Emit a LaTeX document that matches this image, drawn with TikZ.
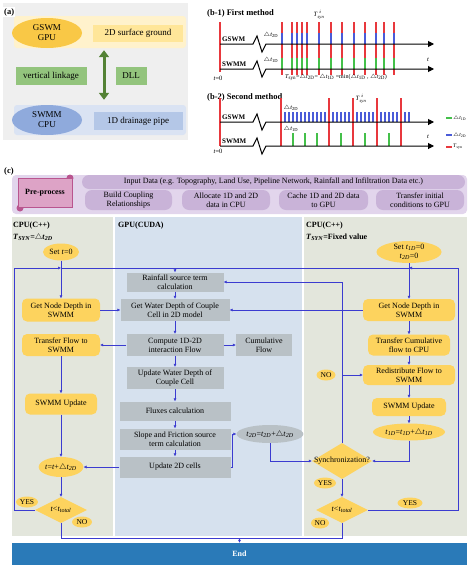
\documentclass[tikz,border=0pt]{standalone}
\usepackage{fontspec}
\setmainfont{Liberation Serif}
\usetikzlibrary{shapes.geometric,arrows.meta}

\definecolor{panelgray}{HTML}{EFEFEF}
\definecolor{ylband}{HTML}{FFF2CC}
\definecolor{gswmc}{HTML}{F9C846}
\definecolor{surfc}{HTML}{FFE699}
\definecolor{grn}{HTML}{93C47D}
\definecolor{darkgrn}{HTML}{548235}
\definecolor{blband}{HTML}{DAE3F3}
\definecolor{swmmc}{HTML}{8FAADC}
\definecolor{pipec}{HTML}{B4C7E7}
\definecolor{tred}{HTML}{E8383D}
\definecolor{tblue}{HTML}{4A5BD8}
\definecolor{tgrn}{HTML}{44C04A}
\definecolor{lavband}{HTML}{E2D5EC}
\definecolor{lavbtn}{HTML}{C9B3D8}
\definecolor{pinkc}{HTML}{DDA3C6}
\definecolor{pinkd}{HTML}{B9558F}
\definecolor{cpuc}{HTML}{E3E6DC}
\definecolor{gpuc}{HTML}{D6E1EE}
\definecolor{boxgray}{HTML}{B9C1C6}
\definecolor{yel}{HTML}{FDD35E}
\definecolor{arrblue}{HTML}{3B3BD0}
\definecolor{endc}{HTML}{2A7AB8}

\newcommand{\dt}[1]{$\triangle$\textit{t}\textsubscript{#1}}
\newcommand{\tsb}[1]{\textit{t}\textsubscript{\textit{#1}}}

\begin{document}
\begin{tikzpicture}[x=1pt,y=-1pt,
    every node/.style={font=\fontsize{8}{9}\selectfont, inner sep=1pt},
    ybox/.style={fill=yel, rounded corners=5pt, align=center},
    yell/.style={ellipse, fill=yel, inner sep=0pt, align=center},
    gbox/.style={fill=boxgray, align=center},
    dia/.style={diamond, fill=yel, aspect=2, inner sep=0pt},
    yn/.style={ellipse, fill=yel, inner sep=0pt, minimum width=22, minimum height=11, font=\fontsize{7.5}{8}\selectfont},
    pbtn/.style={fill=lavbtn, rounded corners=7pt, align=center, minimum height=20},
    arr/.style={draw=arrblue, line width=0.5pt, -{Latex[length=3pt,width=3pt]}},
    ln/.style={draw=arrblue, line width=0.5pt},
    axis/.style={line width=1pt, -{Triangle[length=6pt,width=6pt]}},
    tickline/.style={line width=1.2pt},
    small/.style={font=\fontsize{6.5}{7}\selectfont},
    ttl/.style={anchor=west, font=\bfseries\fontsize{8.5}{9}\selectfont},
    ]
    \useasboundingbox (0,0) rectangle (474,568);

    % (a) coupling sketch
    \fill[panelgray] (3,3) rectangle (188,140);
    \node[ttl, fill=white] (la) at (3,12) {(a)};
    \node[fill=ylband, rounded corners=3pt, minimum width=172, minimum height=32] (gband) at (100,32) {};
    \node[fill=blband, rounded corners=3pt, minimum width=172, minimum height=30] (sband) at (100,120) {};
    \node[ellipse, fill=gswmc, minimum width=70, minimum height=30, align=center, font=\fontsize{9}{10}\selectfont] (gswm) at (47,33) {GSWM\\GPU};
    \node[fill=surfc, minimum width=90, minimum height=17, font=\fontsize{9}{10}\selectfont] (surf) at (138,33) {2D surface ground};
    \node[fill=grn, minimum width=71, minimum height=18, font=\fontsize{9}{10}\selectfont] (vert) at (51,76) {vertical linkage};
    \node[fill=grn, minimum width=31, minimum height=18, font=\fontsize{9}{10}\selectfont] (dll) at (131,76) {DLL};
    \node[ellipse, fill=swmmc, minimum width=70, minimum height=30, align=center, font=\fontsize{9}{10}\selectfont] (swmm) at (47,120) {SWMM\\CPU};
    \node[fill=pipec, minimum width=89, minimum height=18, font=\fontsize{9}{10}\selectfont] (pipe) at (138,121) {1D drainage pipe};
    \draw[{Triangle[length=7pt,width=10pt]}-{Triangle[length=7pt,width=10pt]}, darkgrn, line width=3pt, shorten <=2pt, shorten >=5pt] ([xshift=4pt]gband.south) -- ([xshift=4pt]sband.north);

    % (b-1) first method
    \node[ttl] (b1) at (206,13) {(b-1) First method};
    \foreach \x in {282,292,297,302,307,319,331,342,354,365,376,384,394} {
        \draw[tickline, tred] (\x,22) -- (\x,75);
        \draw[tickline, tblue] (\x,33) -- (\x,44);
        \draw[tickline, tgrn] (\x,58) -- (\x,69);
    }
    \draw[tickline, tred] (220,22) -- (220,72);
    \draw[axis] (220,44) -- (253,44) -- (257,36) -- (262,52) -- (266,44) -- (434,44);
    \draw[axis] (220,69) -- (253,69) -- (257,61) -- (262,77) -- (266,69) -- (434,69);
    \node[anchor=west, font=\bfseries\fontsize{7}{8}\selectfont] (g1) at (221,39) {GSWM};
    \node[anchor=west, font=\bfseries\fontsize{7}{8}\selectfont] (s1) at (221,64) {SWMM};
    \node[small] (z1) at (218,78) {\textit{t}=0};
    \node[small] (d21) at (271,35) {\dt{2D}};
    \node[small] (d11) at (271,60) {\dt{1D}};
    \node[small] (ts1) at (319,15) {\textit{T}$^{\,i}_{\mathit{syn}}$};
    \node[small] (t1) at (428,60) {\textit{t}};
    \node[font=\fontsize{6}{7}\selectfont] (f1) at (336,77) {\textit{T}\textsubscript{syn}=\dt{2D}= \dt{1D} =min(\dt{1D} , \dt{2D})};

    % (b-2) second method
    \node[ttl] (b2) at (206,97) {(b-2) Second method};
    \foreach \x in {281,293,...,401} {
        \draw[tickline, tgrn] (\x,133) -- (\x,146);
        \draw[tickline, tblue] (\x,112) -- (\x,122);
        \draw[tickline, tblue] (\x+4,112) -- (\x+4,122);
        \draw[tickline, tblue] (\x+8,112) -- (\x+8,122);
    }
    \foreach \x in {281,329,353,377,401} {
        \draw[tickline, tred] (\x,98) -- (\x,146);
    }
    \draw[tickline, tred] (220,98) -- (220,146);
    \draw[axis] (220,122) -- (253,122) -- (257,114) -- (262,130) -- (266,122) -- (434,122);
    \draw[axis] (220,146) -- (253,146) -- (257,138) -- (262,154) -- (266,146) -- (434,146);
    \node[anchor=west, font=\bfseries\fontsize{7}{8}\selectfont] (g2) at (221,117) {GSWM};
    \node[anchor=west, font=\bfseries\fontsize{7}{8}\selectfont] (s2) at (221,141) {SWMM};
    \node[small] (z2) at (218,151) {\textit{t}=0};
    \node[small] (d22) at (291,108) {\dt{2D}};
    \node[small] (d12) at (291,129) {\dt{1D}};
    \node[small] (ts2) at (361,99) {\textit{T}$^{\,i}_{\mathit{syn}}$};
    \node[small] (t2) at (428,137) {\textit{t}};
    \draw[tickline, tgrn] (446,118) -- (452,118);
    \draw[tickline, tblue] (446,135) -- (452,135);
    \draw[tickline, tred] (446,147) -- (452,147);
    \node[anchor=west, font=\fontsize{5.5}{6}\selectfont] (lg1) at (452,118) {\dt{1D}};
    \node[anchor=west, font=\fontsize{5.5}{6}\selectfont] (lg2) at (452,135) {\dt{2D}};
    \node[anchor=west, font=\fontsize{5.5}{6}\selectfont] (lg3) at (452,147) {\textit{T}\textsubscript{syn}};

    % (c) pre-process
    \node[ttl] (lc) at (3,171) {(c)};
    \fill[lavband, rounded corners=4pt] (12,175) rectangle (467,214);
    \node[pbtn, minimum width=383, minimum height=14] (inp) at (273.5,182) {Input Data (e.g. Topography, Land Use, Pipeline Network, Rainfall and Infiltration Data etc.)};
    \node[pbtn, minimum width=87] (bcr) at (128.5,200) {Build Coupling\\Relationships};
    \node[pbtn, minimum width=88] (alc) at (226,200) {Allocate 1D and 2D\\data in CPU};
    \node[pbtn, minimum width=89] (cch) at (323.5,200) {Cache 1D and 2D data\\to GPU};
    \node[pbtn, minimum width=88] (tic) at (420,200) {Transfer initial\\conditions to GPU};
    \fill[pinkd] (70,178) circle (3.5);
    \fill[pinkd] (20,208) circle (3.5);
    \node[fill=pinkc, draw=pinkd, line width=0.6pt, minimum width=54, minimum height=29, font=\bfseries\fontsize{8}{9}\selectfont] (pre) at (45,193) {Pre-process};

    % (c) panels
    \fill[cpuc] (12,217) rectangle (113,536);
    \fill[gpuc] (115,217) rectangle (302,536);
    \fill[cpuc] (304,217) rectangle (467,536);
    \node[anchor=west, font=\bfseries\fontsize{8}{9}\selectfont] (cpl) at (12,226) {CPU(C++)};
    \node[anchor=west, font=\bfseries\fontsize{8}{9}\selectfont] (tsl) at (12,237) {\textit{T}\textsubscript{\textit{SYN}}=\dt{\textit{2D}}};
    \node[anchor=west, font=\bfseries\fontsize{8}{9}\selectfont] (gpl) at (117,226) {GPU(CUDA)};
    \node[anchor=west, font=\bfseries\fontsize{8}{9}\selectfont] (cpr) at (305,226) {CPU(C++)};
    \node[anchor=west, font=\bfseries\fontsize{8}{9}\selectfont] (tsr) at (305,237) {\textit{T}\textsubscript{\textit{SYN}}=Fixed value};
    \node[fill=endc, minimum width=455, minimum height=22, text=white, font=\bfseries\fontsize{8}{9}\selectfont] (endb) at (239.5,554) {End};

    % left CPU
    \node[yell, minimum width=36, minimum height=17] (lset) at (61,252) {Set \textit{t}=0};
    \node[ybox, minimum width=78, minimum height=23] (lgnd) at (61,310) {Get Node Depth in\\SWMM};
    \node[ybox, minimum width=78, minimum height=22] (ltf) at (61,345) {Transfer Flow to\\SWMM};
    \node[ybox, minimum width=72, minimum height=21] (lupd) at (61,404) {SWMM Update};
    \node[yell, minimum width=44, minimum height=20] (ladd) at (61,467) {\textit{t}=\textit{t}+\dt{\textit{2D}}};
    \node[dia, minimum width=52, minimum height=26] (ldia) at (61,510) {\textit{t}<\tsb{total}};
    \node[yn] (lyes) at (27,502) {YES};
    \node[yn, minimum width=20] (lno) at (82,522) {NO};

    % GPU
    \node[gbox, minimum width=97, minimum height=19] (rain) at (175,282) {Rainfall source term\\calculation};
    \node[gbox, minimum width=109, minimum height=22] (gwd) at (175,310) {Get Water Depth of Couple\\Cell in 2D model};
    \node[gbox, minimum width=97, minimum height=22] (comp) at (175,345) {Compute 1D-2D\\interaction Flow};
    \node[gbox, minimum width=56, minimum height=22] (cum) at (264,345) {Cumulative\\Flow};
    \node[gbox, minimum width=97, minimum height=22] (uwd) at (175,378) {Update Water Depth of\\Couple Cell};
    \node[gbox, minimum width=111, minimum height=19] (flux) at (175,411) {Fluxes calculation};
    \node[gbox, minimum width=111, minimum height=21] (slope) at (175,439) {Slope and Friction source\\term calculation};
    \node[gbox, minimum width=111, minimum height=21] (u2d) at (175,467) {Update 2D cells};
    \node[ellipse, fill=boxgray, minimum width=63, minimum height=18, inner sep=0pt] (t2d) at (270,434) {\tsb{2D}=\tsb{2D}+\dt{\textit{2D}}};

    % right CPU
    \node[yell, minimum width=65, minimum height=22] (rset) at (409,252) {Set \tsb{1D}=0\\\tsb{2D}=0};
    \node[ybox, minimum width=92, minimum height=22] (rgnd) at (409,310) {Get Node Depth in\\SWMM};
    \node[ybox, minimum width=82, minimum height=21] (rtc) at (409,345) {Transfer Cumulative\\flow to CPU};
    \node[ybox, minimum width=92, minimum height=20] (rred) at (409,375) {Redistribute Flow to\\SWMM};
    \node[ybox, minimum width=74, minimum height=18] (rupd) at (409,407) {SWMM Update};
    \node[yell, minimum width=72, minimum height=17] (radd) at (409,432) {\tsb{1D}=\tsb{1D}+\dt{\textit{1D}}};
    \node[dia, minimum width=60, minimum height=36, label=center:{Synchronization?}] (sync) at (342,461) {};
    \node[dia, minimum width=52, minimum height=26] (rdia) at (342,510) {\textit{t}<\tsb{total}};
    \node[yn] (ryes) at (325,483) {YES};
    \node[yn, minimum width=18] (rno) at (320,523) {NO};
    \node[yn, minimum width=25] (ryes2) at (410,503) {YES};
    \node[yn, minimum width=19] (rno2) at (326,375) {NO};

    % connectors
    \coordinate (lt) at (61,268);
    \coordinate (rt) at (409,268);
    \coordinate (lloop) at (14,268);
    \coordinate (rloop) at (458,268);
    \coordinate (ej) at (239.5,538);
    \draw[ln] (lt) -- (rt);
    \draw[arr] (ldia.west) -| (lloop) -- (lt);
    \draw[arr] (rdia.east) -| (rloop) -- (rt);
    \draw[arr] (rain.north |- lt) -- (rain);
    \draw[arr] (lset) -- (lgnd);
    \draw[arr] (rset) -- (rgnd);
    \draw[arr] (lgnd) -- (gwd);
    \draw[arr] (rgnd) -- (gwd);
    \draw[arr] (comp) -- (ltf);
    \draw[arr] (comp) -- (cum);
    \foreach \a/\b in {ltf/lupd, lupd/ladd, ladd/ldia, rain/gwd, gwd/comp, comp/uwd, uwd/flux, flux/slope, slope/u2d, rgnd/rtc, rtc/rred, rred/rupd, rupd/radd, sync/rdia}
        \draw[arr] (\a) -- (\b);
    \draw[arr] (u2d) -- (ladd);
    \draw[arr] (u2d.east) -- ++(2,0) |- (t2d);
    \draw[arr] (t2d) |- (sync);
    \draw[arr] (radd) |- (sync);
    \draw[arr] (sync.north) |- (rain);
    \draw[arr] (sync.north |- rred) -- (rred);
    \draw[ln] (ldia.south) |- (ej);
    \draw[ln] (rdia.south) |- (ej);
    \draw[arr] (ej) -- (endb);
\end{tikzpicture}
\end{document}
